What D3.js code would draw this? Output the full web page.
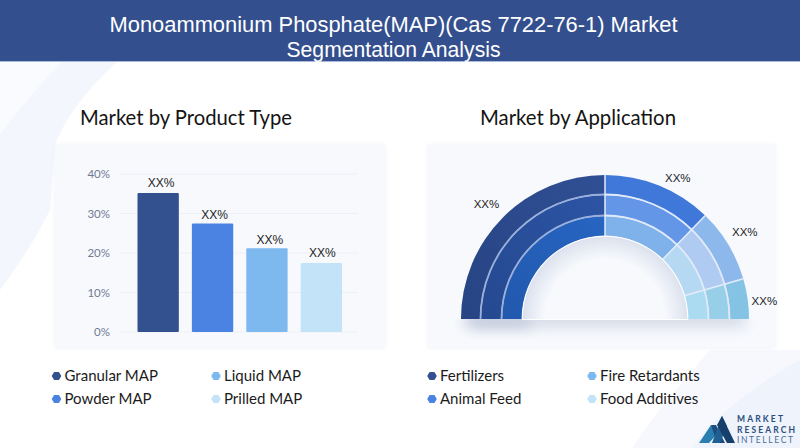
<!DOCTYPE html>
<html>
<head>
<meta charset="utf-8">
<script src="https://d3js.org/d3.v7.min.js"></script>
<style>
  html, body { margin: 0; padding: 0; background: #fff; }
  svg { display: block; }
  text { font-family: "Lato", sans-serif; }
  .axis path, .axis line { display: none; }
  .axis text { font-family: "Lato", sans-serif; font-size: 11.5px; fill: #717b94; }
</style>
</head>
<body>
<svg id="chart" width="800" height="448"></svg>
<script>
// values
const titleLines = ["Monoammonium Phosphate(MAP)(Cas 7722-76-1) Market", "Segmentation Analysis"];
const productTypes = ["Granular MAP", "Powder MAP", "Liquid MAP", "Prilled MAP"];
const productShares = [35.2, 27.5, 21.2, 17.5];
const barTicks = [0, 10, 20, 30, 40];
const applications = ["Fertilizers", "Animal Feed", "Fire Retardants", "Food Additives"];
const applicationShares = [50, 24.5, 16.5, 9];
const valueLabel = "XX%";

const legendColors = ["#33508f", "#4a83e2", "#7db8ef", "#c3e3f8"];
// outer, middle, inner ring per application
const ringColors = [
    ["#2f4e93", "#2c54a3", "#2766c4"],
    ["#3f78d9", "#6496e8", "#7fb2ea"],
    ["#8db8ec", "#b0cbf2", "#b6d9f3"],
    ["#85c3e4", "#97cfe9", "#aadbf0"]
];
const ringRadii = [[125, 144], [104, 124], [83, 103]];

const svg = d3.select("#chart");
const defs = svg.append("defs");

// shade on the dark half, heavier toward the lower left
const shade = defs.append("linearGradient").attr("id", "leftShade").attr("gradientUnits", "userSpaceOnUse")
    .attr("x1", -144).attr("y1", 0).attr("x2", 0).attr("y2", -119);
shade.append("stop").attr("offset", 0).attr("stop-color", "#0c2350").attr("stop-opacity", 0.24);
shade.append("stop").attr("offset", 1).attr("stop-color", "#0c2350").attr("stop-opacity", 0);

// soft shadow inside the hole
const hole = defs.append("radialGradient").attr("id", "holeShade").attr("gradientUnits", "userSpaceOnUse")
    .attr("cx", 0).attr("cy", 0).attr("r", 83);
hole.append("stop").attr("offset", 0.72).attr("stop-color", "#f7f9fd");
hole.append("stop").attr("offset", 1).attr("stop-color", "#dbe1ed");

defs.append("filter").attr("id", "soft").attr("x", "-30%").attr("y", "-100%").attr("width", "160%").attr("height", "300%")
    .append("feGaussianBlur").attr("stdDeviation", 7);
defs.append("filter").attr("id", "softer").attr("x", "-10%").attr("y", "-10%").attr("width", "120%").attr("height", "120%")
    .append("feGaussianBlur").attr("stdDeviation", 2);
defs.append("clipPath").attr("id", "belowBase").append("rect")
    .attr("x", -170).attr("y", 0).attr("width", 340).attr("height", 28);

// pale swooshes behind everything
const bg = svg.append("g");
bg.append("path").attr("d", "M0,62 H117 C92,85 68,112 55,145 L50,210 C35,240 15,270 0,290 Z").attr("fill", "#f3f6fc");
bg.append("path").attr("d", "M0,62 H62 C40,85 18,110 0,135 Z").attr("fill", "#f9fbfe");
bg.append("path").attr("d", "M710,350 C680,385 650,420 632,448 H800 V350 Z").attr("fill", "#f6f8fd");
bg.append("path").attr("d", "M800,360 C755,385 715,415 692,448 H800 Z").attr("fill", "#eff3fb");

// header band
svg.append("rect").attr("width", 800).attr("height", 61).attr("fill", "#344f8e");
svg.append("rect").attr("y", 61).attr("width", 800).attr("height", 1).attr("fill", "#a9bbdc");
svg.append("text").attr("x", 393.5).attr("y", 32).attr("text-anchor", "middle").attr("fill", "#fff")
    .style("font-family", "'Liberation Sans', sans-serif").attr("font-size", 21.5)
    .attr("textLength", 568).attr("lengthAdjust", "spacingAndGlyphs").text(titleLines[0]);
svg.append("text").attr("x", 393.5).attr("y", 56.8).attr("text-anchor", "middle").attr("fill", "#fff")
    .style("font-family", "'Liberation Sans', sans-serif").attr("font-size", 21.5)
    .attr("textLength", 214).attr("lengthAdjust", "spacingAndGlyphs").text(titleLines[1]);

// section titles
svg.append("text").attr("x", 80).attr("y", 125).attr("fill", "#141414").attr("font-size", 22)
    .attr("textLength", 212).attr("lengthAdjust", "spacingAndGlyphs").text("Market by Product Type");
svg.append("text").attr("x", 480).attr("y", 125).attr("fill", "#141414").attr("font-size", 22)
    .attr("textLength", 196).attr("lengthAdjust", "spacingAndGlyphs").text("Market by Application");

// panels
[[55, 144, 330, 203], [428, 144, 347, 203]].forEach(p => {
    svg.append("rect").attr("x", p[0]).attr("y", p[1] + 1).attr("width", p[2]).attr("height", p[3])
        .attr("fill", "#eef1f7").attr("filter", "url(#softer)");
    svg.append("rect").attr("x", p[0]).attr("y", p[1]).attr("width", p[2]).attr("height", p[3]).attr("fill", "#f7f9fd");
});

// bar chart
const y = d3.scaleLinear().domain([0, 40]).range([332, 174]);
const x = d3.scaleBand().domain(productTypes).range([137.5, 342]).paddingInner(0.24);

svg.append("g").selectAll("line").data(barTicks).join("line")
    .attr("x1", 120).attr("x2", 358)
    .attr("y1", d => y(d)).attr("y2", d => y(d))
    .attr("stroke", "#edf0f7").attr("stroke-width", 1);

svg.append("g").attr("class", "axis").attr("transform", "translate(110,0)")
    .call(d3.axisLeft(y).tickValues(barTicks).tickSize(0).tickPadding(0).tickFormat(d => d + "%"));

svg.append("g").selectAll("rect").data(productShares).join("rect")
    .attr("x", (d, i) => x(productTypes[i]))
    .attr("y", d => y(d))
    .attr("width", x.bandwidth())
    .attr("height", d => y(0) - y(d))
    .attr("rx", 1)
    .attr("fill", (d, i) => legendColors[i]);

// the picture has these labels a little off centre
const barLabelNudge = [[3, 0], [2, 2], [3, 2], [1, 0]];
svg.append("g").selectAll("text").data(productShares).join("text")
    .attr("x", (d, i) => x(productTypes[i]) + x.bandwidth() / 2 + barLabelNudge[i][0])
    .attr("y", (d, i) => y(d) - 6 + barLabelNudge[i][1])
    .attr("text-anchor", "middle")
    .style("font-family", "'Liberation Sans', sans-serif")
    .attr("font-size", 12).attr("fill", "#1d1d1d")
    .text(valueLabel);

// half donut
const donut = svg.append("g").attr("transform", "translate(605,319)");
const pie = d3.pie().sort(null).startAngle(-Math.PI / 2).endAngle(Math.PI / 2);
const slices = pie(applicationShares);
const arc = d3.arc();

// shadow under the baseline
const under = donut.append("g").attr("clip-path", "url(#belowBase)");
under.append("rect").attr("x", -140).attr("y", -8).attr("width", 280).attr("height", 16)
    .attr("fill", "#d3d9e6").attr("filter", "url(#soft)");
under.append("rect").attr("x", -135).attr("y", -6).attr("width", 60).attr("height", 14)
    .attr("fill", "#c3cbdc").attr("filter", "url(#soft)");

donut.append("path")
    .attr("d", arc({ innerRadius: 0, outerRadius: 83, startAngle: -Math.PI / 2, endAngle: Math.PI / 2 }))
    .attr("fill", "url(#holeShade)");

slices.forEach((s, i) => {
    ringRadii.forEach((r, j) => {
        donut.append("path")
            .attr("d", arc({ innerRadius: r[0], outerRadius: r[1], startAngle: s.startAngle, endAngle: s.endAngle }))
            .attr("fill", ringColors[i][j]);
    });
});

donut.append("path")
    .attr("d", arc({ innerRadius: 83, outerRadius: 144, startAngle: -Math.PI / 2, endAngle: 0 }))
    .attr("fill", "url(#leftShade)");

// ring separators, bluer on the dark half
[124.5, 103.5].forEach(r => {
    donut.append("path")
        .attr("d", arc({ innerRadius: r - 0.9, outerRadius: r + 0.9, startAngle: -Math.PI / 2, endAngle: 0 }))
        .attr("fill", "#98afdc");
    donut.append("path")
        .attr("d", arc({ innerRadius: r - 0.9, outerRadius: r + 0.9, startAngle: 0, endAngle: Math.PI / 2 }))
        .attr("fill", "#dfe9f8");
});
donut.append("path")
    .attr("d", arc({ innerRadius: 82.3, outerRadius: 83.4, startAngle: -Math.PI / 2, endAngle: Math.PI / 2 }))
    .attr("fill", "#ffffff");
slices.slice(1).forEach(s => {
    const sin = Math.sin(s.startAngle), cos = -Math.cos(s.startAngle);
    donut.append("line")
        .attr("x1", 83 * sin).attr("y1", 83 * cos)
        .attr("x2", 144 * sin).attr("y2", 144 * cos)
        .attr("stroke", "#e4ecf9").attr("stroke-width", 1.5);
});
donut.append("line").attr("x1", -83).attr("x2", 83).attr("y1", 0.5).attr("y2", 0.5)
    .attr("stroke", "#ffffff").attr("stroke-width", 1);

// slice labels sit outside the ring, nudged to where the picture has them
const labelNudge = [[-4, 0], [12, 9], [1, -3], [-1, 5]];
slices.forEach((s, i) => {
    const c = d3.arc().innerRadius(162).outerRadius(162).centroid(s);
    donut.append("text")
        .attr("x", c[0] + labelNudge[i][0]).attr("y", c[1] + labelNudge[i][1] + 4)
        .attr("text-anchor", "middle")
        .style("font-family", "'Liberation Sans', sans-serif")
        .attr("font-size", 11.5).attr("fill", "#1d1d1d")
        .text(valueLabel);
});

// legends
function drawLegend(names, left, right) {
    const cols = [left, left, right, right];
    const rows = [375, 398, 375, 398];
    const marker = d3.line().curve(d3.curveLinearClosed)(d3.range(6).map(k => {
        const a = Math.PI / 3 * k;
        return [4.8 * Math.cos(a), 4.6 * Math.sin(a)];
    }));
    names.forEach((name, i) => {
        svg.append("path").attr("d", marker)
            .attr("transform", `translate(${cols[i]},${rows[i] + 1})`)
            .attr("fill", legendColors[i]);
        svg.append("text").attr("x", cols[i] + 8).attr("y", rows[i] + 5.5)
            .attr("font-size", 15).attr("fill", "#1b1b1b").text(name);
    });
}
drawLegend(productTypes, 56.5, 216);
drawLegend(applications, 432, 592);

// logo mark
const logo = svg.append("g");
logo.append("path").attr("d", "M699,443 L711,425 L717,434 L709,443 Z").attr("fill", "#2a7fb0");
logo.append("path").attr("d", "M711,425 L716,425 L725,443 H717 Z").attr("fill", "#1b4e7d");
logo.append("path").attr("d", "M712,443 L722,416 L727,426 L720,443 Z").attr("fill", "#1f5f91");
logo.append("path").attr("d", "M722,416 L735,443 H727 L717,425 Z").attr("fill", "#173f6b");
[["MARKET", 422, 46, 700, "#2c4e7d"], ["RESEARCH", 432.5, 58, 700, "#2c4e7d"], ["INTELLECT", 443, 56, 400, "#4a6f96"]].forEach(t => {
    svg.append("text").attr("x", 737).attr("y", t[1]).attr("font-size", 8.5).attr("font-weight", t[3])
        .attr("textLength", t[2]).attr("fill", t[4]).text(t[0]);
});
</script>
</body>
</html>
